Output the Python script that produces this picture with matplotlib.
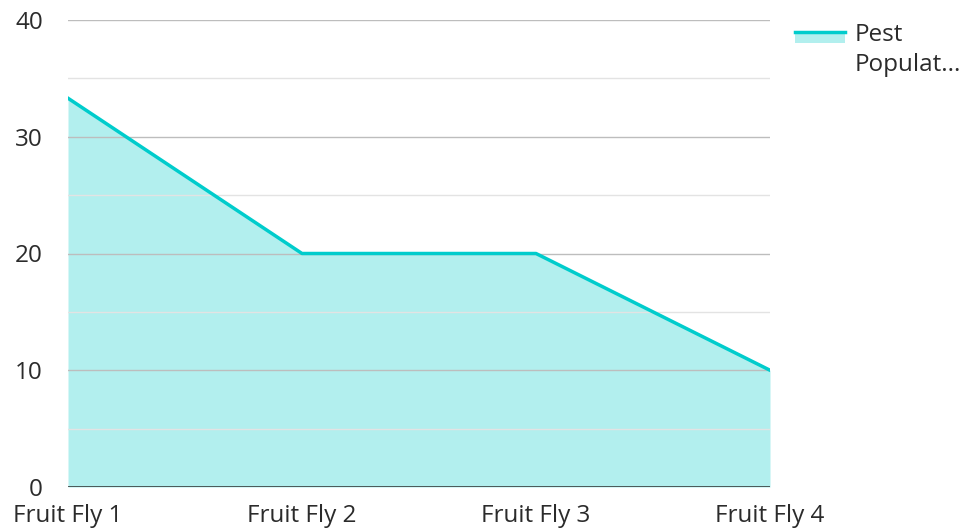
import matplotlib.pyplot as plt
from matplotlib.lines import Line2D
from matplotlib.patches import Rectangle

categories = ["Fruit Fly 1", "Fruit Fly 2", "Fruit Fly 3", "Fruit Fly 4"]
pest_population = [33.3, 20, 20, 10]
y_ticks = [0, 10, 20, 30, 40]

line_color = "#00cccc"
fill_color = "#b2efee"
text_color = "#2b2b2b"

plt.rcParams['font.family'] = ['Open Sans', 'DejaVu Sans']

fig = plt.figure(figsize=(9.65, 5.28), dpi=100)
ax = fig.add_axes([68 / 965, 1 - 487 / 528, (770 - 68) / 965, (487 - 20) / 528])

x = list(range(len(categories)))
ax.fill_between(x, 0, pest_population, color=fill_color, linewidth=0, zorder=1)
ax.plot(x, pest_population, color=line_color, linewidth=2.5, zorder=3)

# grid lines sit on top of the fill
for v in range(5, 40, 10):
    ax.axhline(v, color="#e3e3e3", linewidth=1, zorder=2)
for v in y_ticks[1:]:
    ax.axhline(v, color="#bdbdbd", linewidth=1, zorder=2)
ax.axhline(0, color=text_color, linewidth=1.8, zorder=4)

ax.set_xlim(0, len(categories) - 1)
ax.set_ylim(0, 40)
ax.set_xticks(x)
ax.set_xticklabels(categories)
ax.set_yticks(y_ticks)
ax.tick_params(axis="both", length=0, labelsize=17.5, colors=text_color)
ax.tick_params(axis="y", pad=18)
ax.tick_params(axis="x", pad=12)
for spine in ax.spines.values():
    spine.set_visible(False)

# legend drawn by hand: line over a filled swatch
fig.add_artist(Rectangle((795 / 965, 1 - 43 / 528), 50 / 965, 12 / 528,
                         transform=fig.transFigure, color=fill_color, linewidth=0))
fig.add_artist(Line2D([795 / 965, 845 / 965], [1 - 32 / 528, 1 - 32 / 528],
                      transform=fig.transFigure, color=line_color, linewidth=2.5))
fig.text(855 / 965, 1 - 35 / 528, "Pest", fontsize=17.5, color=text_color, va="center")
fig.text(855 / 965, 1 - 65 / 528, "Populat...", fontsize=17.5, color=text_color, va="center")

fig.savefig("out.png", dpi=100)
